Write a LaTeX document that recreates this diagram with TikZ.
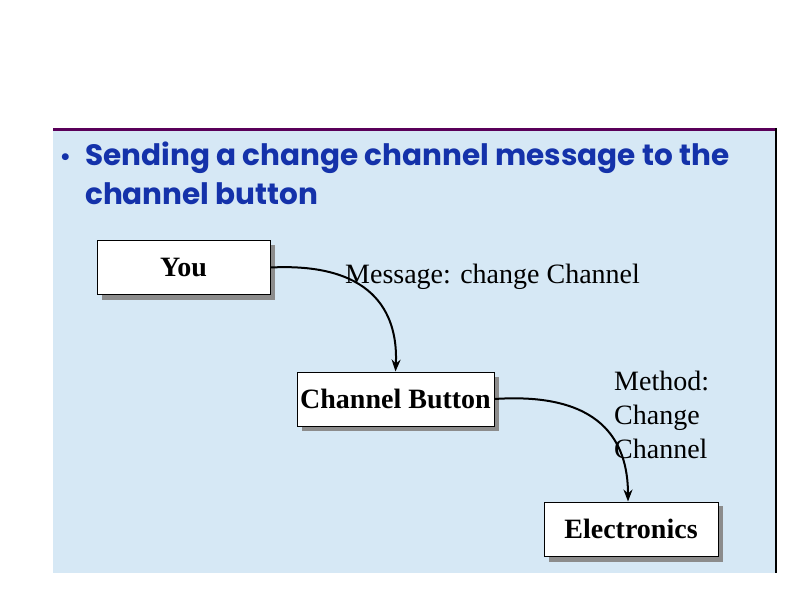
\documentclass[tikz,border=0pt]{standalone}
\usepackage{fontspec}
\usetikzlibrary{arrows.meta}
\setmainfont{Liberation Serif}
\newfontfamily\titlefont{Poppins}
\definecolor{panel}{RGB}{214,232,245}
\definecolor{titleblue}{RGB}{20,50,170}
\begin{document}
\begin{tikzpicture}[x=1pt,y=-1pt,
  box/.style={draw=black,line width=1pt,fill=white,minimum width=#1,minimum height=54pt,inner sep=0pt,font=\fontsize{28}{30}\selectfont\bfseries},
  shadow/.style={fill=black!45},
  conn/.style={-{Stealth[length=12pt,width=9pt]},line width=2pt},
  lbl/.style={font=\fontsize{28}{34}\selectfont,anchor=west,align=left,inner sep=0pt}]
\useasboundingbox (0,0) rectangle (800,600);
\fill[white] (0,0) rectangle (800,600);
\fill[panel] (53,128) rectangle (776,573);
\draw[line width=3pt,color=violet!70!black] (53,129) -- (776,129);
\draw[line width=1.5pt] (776,128) -- (776,573);
\node[anchor=west,text=titleblue] (b) at (56,160) {\titlefont\fontsize{28}{30}\selectfont\textbullet};
\node[anchor=north west,align=left,text=titleblue,inner sep=0pt,font=\titlefont\bfseries\fontsize{29.5}{39}\selectfont] (t) at (85,142)
 {Sending a change channel message to the\\channel button};
\fill[shadow] (102,245) rectangle (275,300);
\node[box=173pt] (you) at (183.5,267.5) {You};
\fill[shadow] (302,377) rectangle (499,431);
\node[box=197pt] (cb) at (395.5,399) {Channel Button};
\fill[shadow] (549,506) rectangle (723,562);
\node[box=174pt] (el) at (631,529) {Electronics};
\draw[conn] (you.east) .. controls (380,262) and (398,320) .. (cb.north);
\draw[conn] (cb.east) .. controls (600,392) and (628,440) .. (el.north -| 628,0);
\node[lbl] (m) at (345,277) {Message: change Channel};
\node[lbl,anchor=north west,font=\fontsize{28}{34}\selectfont] (me) at (614,371) {Method:\\Change\\Channel};
\end{tikzpicture}
\end{document}
